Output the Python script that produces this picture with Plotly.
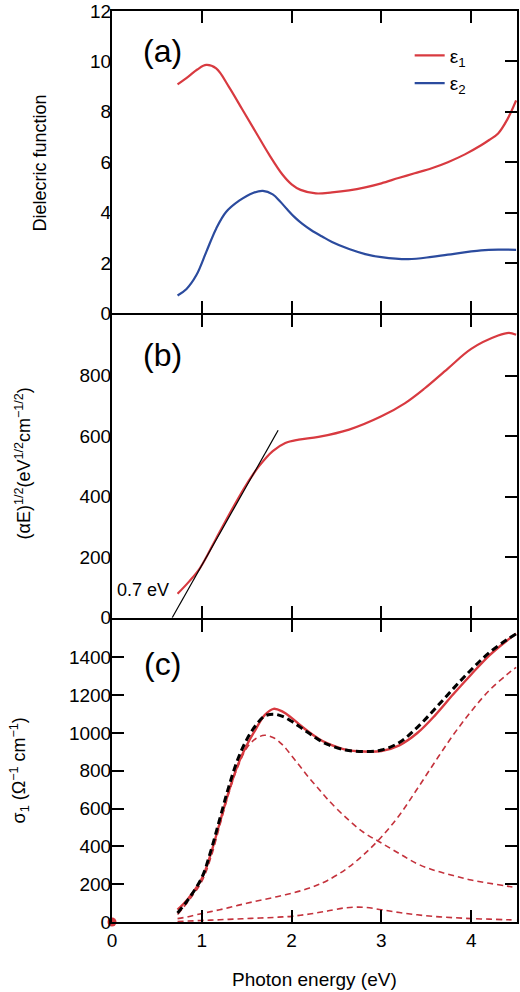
import plotly.graph_objects as go
from plotly.subplots import make_subplots

# panel (a): dielectric function
e_eps1 = [0.73, 0.85, 0.95, 1.05, 1.16, 1.3, 1.45, 1.6, 1.75, 1.9, 2.0, 2.1, 2.27, 2.45,
          2.64, 2.82, 3.0, 3.19, 3.37, 3.56, 3.74, 3.93, 4.11, 4.2, 4.3, 4.4, 4.5]
eps1 = [9.09, 9.40, 9.68, 9.86, 9.72, 9.0, 8.1, 7.2, 6.3, 5.5, 5.12, 4.9, 4.76, 4.80,
        4.88, 5.0, 5.16, 5.37, 5.56, 5.76, 6.0, 6.31, 6.67, 6.88, 7.14, 7.68, 8.45]
e_eps2 = [0.73, 0.83, 0.94, 1.05, 1.16, 1.27, 1.42, 1.57, 1.68, 1.79, 1.87, 1.95, 2.03, 2.12,
          2.22, 2.34, 2.45, 2.64, 2.82, 3.0, 3.3, 3.56, 3.74, 4.11, 4.3, 4.5]
eps2 = [0.71, 0.97, 1.52, 2.44, 3.36, 4.02, 4.48, 4.78, 4.86, 4.72, 4.45, 4.13, 3.83, 3.55,
        3.30, 3.05, 2.83, 2.55, 2.35, 2.23, 2.15, 2.24, 2.33, 2.50, 2.53, 2.52]

# panel (b): (alpha E)^1/2 and the linear extrapolation
e_ae = [0.73, 0.86, 0.98, 1.16, 1.34, 1.49, 1.64, 1.79, 1.93, 2.08, 2.3, 2.64, 3.0, 3.26,
        3.48, 3.74, 4.0, 4.3, 4.42, 4.5]
ae = [79, 120, 164, 262, 360, 437, 502, 551, 578, 589, 598, 622, 666, 709,
      758, 824, 889, 933, 942, 936]
fit_x = [0.67, 1.85]
fit_y = [0, 620]

# panel (c): optical conductivity, fit and oscillators
e_c = [0.73, 0.85, 1.0, 1.1, 1.2, 1.3, 1.4, 1.5, 1.6, 1.7, 1.8, 1.9, 2.0, 2.1, 2.2, 2.3,
       2.4, 2.6, 2.8, 3.0, 3.2, 3.4, 3.6, 3.8, 4.0, 4.2, 4.4, 4.5]
sigma = [65, 125, 230, 360, 525, 690, 830, 935, 1020, 1095, 1128, 1113, 1080, 1040, 1003, 970,
         945, 912, 902, 905, 935, 1000, 1095, 1205, 1310, 1410, 1490, 1525]
sigma_fit = [48, 120, 235, 375, 545, 715, 860, 965, 1040, 1090, 1100, 1088, 1062, 1030, 997, 965,
             940, 910, 902, 910, 950, 1030, 1130, 1235, 1335, 1425, 1495, 1525]
osc1 = [40, 110, 215, 340, 510, 680, 820, 920, 970, 988, 975, 937, 880, 820, 760, 705,
        650, 555, 475, 418, 362, 308, 272, 246, 222, 205, 190, 182]
osc2 = [3, 5, 8, 10, 12, 14, 16, 18, 20, 22, 24, 27, 30, 36, 42, 50,
        58, 75, 78, 65, 50, 38, 29, 23, 18, 15, 12, 11]
osc3 = [18, 28, 45, 55, 65, 76, 88, 99, 110, 120, 130, 141, 152, 165, 180, 198,
        220, 278, 355, 450, 565, 705, 850, 990, 1115, 1225, 1310, 1348]

RED = "#d83a40"
DRED = "#c4323c"
BLUE = "#2b4b9e"
FONT = "Liberation Sans, Arial, sans-serif"

# small gap so that the outside-drawn axis lines of neighbouring panels coincide
fig = make_subplots(rows=3, cols=1, vertical_spacing=2 / 915)

fig.add_trace(go.Scatter(x=e_eps1, y=eps1, mode="lines", name="ε<sub>1</sub>",
                         line=dict(color=RED, width=2.2, shape="spline")), row=1, col=1)
fig.add_trace(go.Scatter(x=e_eps2, y=eps2, mode="lines", name="ε<sub>2</sub>",
                         line=dict(color=BLUE, width=2.2, shape="spline")), row=1, col=1)

fig.add_trace(go.Scatter(x=e_ae, y=ae, mode="lines", showlegend=False,
                         line=dict(color=RED, width=2.2, shape="spline")), row=2, col=1)
fig.add_trace(go.Scatter(x=fit_x, y=fit_y, mode="lines", showlegend=False,
                         line=dict(color="black", width=1.2)), row=2, col=1)

for osc in (osc1, osc2, osc3):
    fig.add_trace(go.Scatter(x=e_c, y=osc, mode="lines", showlegend=False,
                             line=dict(color=DRED, width=1.6, dash="6px,4px", shape="spline")),
                  row=3, col=1)
fig.add_trace(go.Scatter(x=e_c, y=sigma, mode="lines", showlegend=False,
                         line=dict(color=RED, width=2.4, shape="spline")), row=3, col=1)
fig.add_trace(go.Scatter(x=e_c, y=sigma_fit, mode="lines", showlegend=False,
                         line=dict(color="black", width=3, dash="7px,4px", shape="spline")),
              row=3, col=1)
fig.add_trace(go.Scatter(x=[0], y=[0], mode="markers", showlegend=False, cliponaxis=False,
                         marker=dict(color=RED, size=9)), row=3, col=1)

# empty traces so the right-hand tick axes get drawn
for ya, xa in (("y4", "x"), ("y5", "x2")):
    fig.add_trace(go.Scatter(x=[None], y=[None], xaxis=xa, yaxis=ya, showlegend=False,
                             hoverinfo="skip"))

xcommon = dict(range=[0, 4.51], showline=True, linecolor="black", linewidth=2, mirror="ticks",
               ticks="inside", ticklen=12, tickwidth=2, tickcolor="black", tickvals=[0, 1, 2, 3, 4],
               showgrid=False, zeroline=False, tickfont=dict(size=19, color="black"))
fig.update_xaxes(**xcommon)
fig.update_xaxes(showticklabels=False, row=1, col=1)
fig.update_xaxes(showticklabels=False, row=2, col=1)

ycommon = dict(showline=True, linecolor="black", linewidth=2, mirror=True, showgrid=False,
               zeroline=False, tickfont=dict(size=19, color="black"), ticks="",
               ticklabeloverflow="allow", ticklabelstandoff=-5)
fig.update_yaxes(**ycommon)
fig.update_yaxes(range=[0, 12], tickvals=[0, 2, 4, 6, 8, 10, 12], row=1, col=1)
fig.update_yaxes(range=[0, 1000], tickvals=[0, 200, 400, 600, 800], row=2, col=1)
fig.update_yaxes(range=[0, 1600], tickvals=[0, 200, 400, 600, 800, 1000, 1200, 1400],
                 ticks="inside", ticklen=12, tickwidth=2, tickcolor="black", mirror="ticks",
                 row=3, col=1)

rtick = dict(side="right", ticks="inside", ticklen=12, tickwidth=2, tickcolor="black",
             showticklabels=False, showline=False, showgrid=False, zeroline=False)
fig.update_layout(
    yaxis4=dict(overlaying="y", anchor="x", range=[0, 12], tickvals=[0, 2, 4, 6, 8, 10, 12], **rtick),
    yaxis5=dict(overlaying="y2", anchor="x2", range=[0, 1000], tickvals=[0, 200, 400, 600, 800], **rtick),
)

annots = [
    dict(text="(a)", x=0.125, y=0.956),
    dict(text="(b)", x=0.125, y=0.622),
    dict(text="(c)", x=0.125, y=0.283),
]
for a in annots:
    fig.add_annotation(xref="paper", yref="paper", showarrow=False, font=dict(size=32),
                       xanchor="center", yanchor="middle", **a)

ytitles = [
    ("Dielecric function", -0.177, 0.833),
    ("(αE)<sup>1/2</sup>(eV<sup>1/2</sup>cm<sup>−1/2</sup>)", -0.218, 0.503),
    ("σ<sub>1</sub> (Ω<sup>−1</sup> cm<sup>−1</sup>)", -0.228, 0.166),
]
for t, x, y in ytitles:
    fig.add_annotation(text=t, xref="paper", yref="paper", x=x, y=y, textangle=-90,
                       showarrow=False, font=dict(size=18), xanchor="center", yanchor="middle")

fig.add_annotation(text="Photon energy (eV)", xref="paper", yref="paper", x=0.5, y=-0.0634,
                   showarrow=False, font=dict(size=19), xanchor="center", yanchor="middle")
fig.add_annotation(text="0.7 eV", xref="x2", yref="y2", x=0.35, y=91, showarrow=False,
                   font=dict(size=18), xanchor="center", yanchor="middle")

fig.update_layout(
    width=520, height=992,
    margin=dict(l=112, r=1, t=7, b=70),
    paper_bgcolor="white", plot_bgcolor="white",
    font=dict(family=FONT, color="black", size=18),
    legend=dict(x=0.735, y=0.972, xanchor="left", yanchor="top", font=dict(size=19),
                bgcolor="rgba(0,0,0,0)", tracegroupgap=0),
)

# the page body has a default 8px margin; drop it so the figure sits at the window corner
fig.write_html("out.html", config={"displayModeBar": False},
               post_script="document.body.style.margin='0';")
